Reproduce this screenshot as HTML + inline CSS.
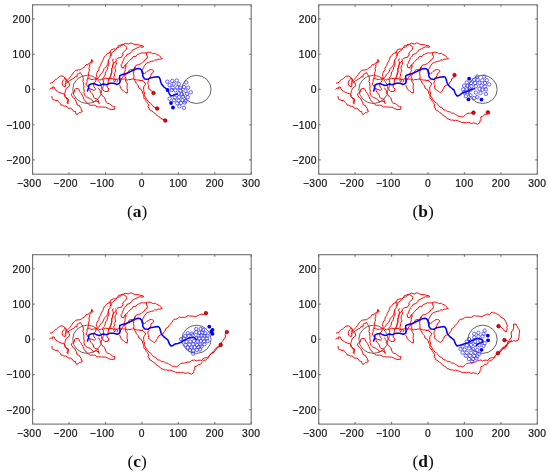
<!DOCTYPE html>
<html><head><meta charset="utf-8"><style>
html,body{margin:0;padding:0;background:#fff;}
svg{display:block;}
.r{fill:none;stroke:#ff0000;stroke-width:1.0;stroke-linejoin:round;stroke-linecap:round;}
.b{fill:none;stroke:#0000ff;stroke-width:1.55;stroke-linejoin:round;stroke-linecap:round;}
.g{fill:none;stroke:#2828ff;stroke-width:0.7;}
.ax{fill:none;stroke:#707070;stroke-width:1.1;}
.t{font-family:"Liberation Sans",Arial,sans-serif;font-size:10.3px;letter-spacing:0.35px;fill:#141414;stroke:#141414;stroke-width:0.22px;}
.cap{font-family:"Liberation Serif","DejaVu Serif",serif;font-size:17.4px;fill:#111;}
</style></head><body>
<svg width="550" height="476" viewBox="0 0 550 476">
<rect width="550" height="476" fill="#fff"/>
<ellipse cx="87.3" cy="89.4" rx="14.57" ry="14.10" fill="none" stroke="#5c5c5c" stroke-width="0.95"/>
<ellipse cx="196.5" cy="89.4" rx="14.57" ry="14.10" fill="none" stroke="#5c5c5c" stroke-width="0.95"/>
<polyline points="50.3,83.1 51.9,82.9 53.2,81.9 54.2,80.7 55.3,79.6 56.6,79.2 57.6,78.3 59.5,76.3 61.9,75.9 63.8,76.5 64.9,77.8 64.6,79.0 63.3,80.2 62.3,82.0 62.1,83.4 62.6,85.1 63.7,86.5 65.8,86.3 65.7,84.7 65.6,82.7 66.4,80.8 66.0,78.8" class="r"/>
<polyline points="65.1,81.1 66.9,80.9 67.8,79.8 68.8,78.8 69.7,77.7 70.5,76.5 71.5,75.5 72.2,74.3 73.3,72.9 74.4,71.6 75.7,70.3 77.1,70.1 78.6,69.9 80.1,69.9 81.4,69.1 82.6,68.2 84.0,67.4 85.2,66.4 86.0,64.7 87.8,64.5 89.0,63.5 90.1,62.8 91.0,61.8 93.0,62.0 91.8,59.4 91.2,61.5 90.9,63.5 89.5,64.9 89.8,66.7 88.8,68.2 89.4,70.0 89.0,71.7 88.3,73.3 88.6,75.0 88.1,76.7 87.7,78.3 86.9,79.9 87.2,81.3 86.7,82.6 85.8,84.4 87.4,85.5 88.0,87.0" class="r"/>
<polyline points="65.0,84.1 66.5,83.0 68.0,82.0 69.4,80.8 71.0,79.9 72.3,79.0 73.9,78.4 74.9,76.8 77.0,76.8 77.1,74.3 78.7,73.7 80.4,72.6 81.5,74.5 82.8,76.4 83.2,78.2 83.3,80.0 82.8,81.7 83.8,83.3 83.6,85.0 84.0,86.6 83.6,88.4 84.1,90.0 84.2,91.3 83.8,92.7 84.4,94.1 85.1,95.6 86.2,96.8 87.5,97.7 89.1,98.0 90.2,98.7 91.3,99.6 92.3,100.2 93.3,102.0 95.3,101.2 97.0,101.0 98.2,102.3 99.3,103.6 98.7,102.3 98.3,100.7 97.8,99.2 96.3,98.7 94.7,98.3 93.7,97.2 93.3,95.3 92.3,93.8 91.0,92.5 90.1,91.0 89.7,89.4 89.0,88.0" class="r"/>
<polyline points="49.7,89.2 50.7,88.1 52.9,88.3 52.5,87.0 54.3,87.2 54.9,88.9 56.0,90.6 57.4,91.0 58.5,92.1 60.0,92.4 61.4,93.3 63.0,93.5 65.3,95.2 64.8,96.2 66.0,97.7 68.4,99.0 68.3,101.4 66.7,102.4 68.0,103.5" class="r"/>
<polyline points="64.8,77.7 65.6,78.8 66.2,80.0 67.2,80.8 68.5,82.2 69.3,84.1 69.7,85.9 68.1,87.0 66.2,88.9 65.5,90.3 65.2,91.9 64.7,93.4 64.3,95.2 65.1,96.6 66.1,97.9 67.1,99.3 67.8,100.9 68.0,103.5" class="r"/>
<polyline points="51.9,96.5 52.2,98.5 53.0,99.8 54.7,100.0 55.9,100.6 57.6,100.3 58.3,101.7 59.4,102.6 60.4,103.6 61.1,105.2 62.8,105.2 63.9,106.2 65.6,106.1 67.2,106.7 68.3,108.3 70.4,108.2 71.9,108.9 72.9,110.6 74.1,111.4 75.6,111.5 75.7,112.9 76.7,114.5 78.1,113.8 79.1,112.7 80.5,112.6 82.6,111.1 81.2,110.3 81.2,108.5 80.1,107.1 79.3,105.5 77.1,104.8 76.5,102.1 75.3,100.0 74.8,98.6 73.2,97.8 71.9,95.9 71.3,94.2 73.1,92.4 74.9,91.7 74.2,89.8 75.9,88.7 78.3,88.6 79.1,89.8 79.4,91.3 80.6,92.4 81.5,93.6 82.0,95.0 82.8,96.5 83.6,98.0 84.2,99.7 85.3,100.9 86.3,102.2 87.6,103.1 88.8,104.5 90.2,105.3 91.9,105.2 93.4,105.2 94.8,105.3 96.0,106.1 97.2,106.9 98.6,106.9 100.0,107.0 101.4,107.0 102.7,107.0 104.1,107.2 105.6,107.2 107.1,107.8 108.5,108.6 109.9,109.2 111.8,109.6 114.6,109.2 114.8,106.7 113.4,106.6 112.3,106.0 110.5,104.5 109.3,103.7 107.5,103.4 106.4,102.2 105.6,100.8 105.2,99.1 104.5,97.5 103.5,96.5 102.2,95.9 101.5,94.2 100.2,92.9 100.4,91.2 99.7,89.8 98.5,88.0" class="r"/>
<polyline points="89.7,88.6 91.8,89.5 94.4,90.4 95.7,88.7 94.0,87.0 93.6,85.4 93.7,83.7 94.7,82.4 95.8,81.1 96.2,79.5 95.8,77.9 96.9,76.6 96.3,74.8 96.7,73.5 97.1,72.2 97.8,70.9 99.0,69.8 98.9,68.1 99.6,66.8 100.7,65.5 101.0,63.8 101.9,62.1 102.9,60.4 103.5,58.6 104.2,57.0 105.5,55.7 106.7,54.2 108.2,53.2 109.8,52.9 110.2,51.9 110.8,52.4 110.9,55.0 110.1,56.4 110.1,58.0 108.9,59.6 108.1,61.3 108.9,63.4 108.7,65.3 108.0,66.5 107.4,67.8 107.3,69.3 106.9,70.7 105.7,71.7 105.3,73.1 105.1,75.1 104.1,76.7 102.9,78.0 102.7,79.8 103.5,80.9 103.6,82.5 103.8,84.0 103.7,85.4 103.1,86.7 102.5,88.3 103.0,89.9 104.5,91.4 106.0,91.6 108.1,91.3 109.0,88.8 107.3,87.7 107.0,85.9 107.3,84.6 108.2,83.4 108.1,82.0 108.5,80.5 108.7,79.1 109.7,77.9 110.2,76.6 110.8,75.2 111.4,73.9 111.7,72.6 111.9,71.1 111.6,69.7 111.6,68.4 112.5,67.4 112.6,65.9 113.0,64.5 113.3,63.0 113.2,61.7 112.0,60.2 113.5,59.0" class="r"/>
<polyline points="96.7,78.7 97.9,77.9 98.8,76.7 100.0,75.7 100.2,74.5 101.5,73.5 102.5,72.3 103.2,71.1 103.7,69.7 104.2,68.3 105.3,67.2 106.8,66.0 107.8,64.3 107.9,62.8 108.6,61.6 108.5,60.0" class="r"/>
<polyline points="108.5,80.3 109.1,78.9 110.0,77.7 110.5,76.1 111.0,74.8 111.0,73.4 111.8,72.2 111.7,70.7 111.9,69.4 112.1,68.0 112.7,66.7 112.8,65.1 113.5,63.6 114.5,62.2 116.0,61.0" class="r"/>
<polyline points="109.0,52.6 110.3,51.6 111.2,49.8 113.7,48.9 115.7,49.2 116.7,48.1 117.7,46.9 118.6,45.4 120.3,45.2 121.9,44.4 123.6,44.3 125.1,43.2 126.8,43.7 128.4,44.0 130.3,43.0 132.2,43.3 133.7,44.2 135.2,44.5 136.9,44.7 138.5,44.8 139.8,45.2 141.0,45.6 143.1,45.9 143.6,47.0 142.0,47.2 139.6,46.8 137.2,47.8 135.1,48.9 133.8,49.6 132.3,50.1 131.8,51.5 131.0,52.6 129.1,53.9 126.9,54.4 126.3,56.0 125.2,57.2 124.1,58.2 123.7,59.6 123.1,60.9 122.4,62.2 122.1,63.5 121.0,64.8 121.3,66.1 121.7,67.5 123.5,68.1 124.4,66.0 125.1,65.1 126.5,66.1" class="r"/>
<polyline points="117.4,58.3 119.8,57.5 121.5,57.3 122.0,55.9 123.2,55.2 122.7,52.9 124.5,51.2 126.2,49.6 126.7,47.4 125.6,45.9 123.3,44.6 121.2,45.6 119.2,47.2 117.7,47.4 116.7,48.4 115.2,50.4 114.0,51.1 112.8,51.9 111.0,53.7 111.2,55.9" class="r"/>
<polyline points="115.9,59.0 116.3,60.3 115.8,61.7 116.5,63.0 116.2,64.3 115.4,65.6 115.0,66.9 115.0,68.3 115.4,69.7 115.8,71.1 115.0,72.4 114.1,73.6 114.6,75.0 114.0,76.3 113.8,77.6 114.1,79.0 113.8,80.5 114.5,82.2 115.4,80.6 116.3,79.2 117.7,80.3 117.0,82.0" class="r"/>
<polyline points="119.8,85.6 120.5,87.2 121.2,88.8 122.1,89.9 123.4,90.6 124.3,91.7 125.7,92.6 127.4,92.9 127.3,91.3 127.7,90.1 127.0,88.7 127.1,87.3 127.1,85.6 127.4,83.9 126.4,82.5 125.6,81.0 125.7,79.5 125.9,78.0 125.2,76.8 124.9,75.4 124.4,74.0 124.3,72.5 125.2,71.0 125.1,69.5 125.2,67.9 125.6,66.4 125.5,64.4 127.1,63.8 127.6,62.6 128.6,61.6 129.7,60.2 131.1,59.1 132.2,58.5 132.8,57.0 134.0,56.4 136.1,56.4 137.1,54.7 138.4,54.2 139.8,53.8 141.0,53.0 142.3,52.8 143.7,53.1 145.0,53.0 146.7,52.5 148.3,52.2 150.1,52.3 151.3,52.8 152.4,53.6 153.7,53.6 155.4,53.3 156.5,54.3 157.9,54.9 159.3,55.6 160.1,56.7 161.1,57.6 162.3,58.8 161.0,58.9 159.5,59.3 157.9,59.1 156.5,60.1 154.7,59.9 153.4,61.1 151.5,61.3 149.7,61.9 148.2,62.5 146.4,63.2 145.1,65.1 144.2,66.1 143.6,67.5 142.4,69.6 141.7,71.6 141.8,72.9 142.4,74.3 143.3,73.5" class="r"/>
<polyline points="146.5,53.3 146.5,55.0 147.4,56.4 146.9,58.6 145.2,59.4 143.9,61.6 142.5,62.3 141.4,63.4 140.1,64.1 138.7,64.6 136.1,65.3 135.0,68.0 133.8,69.0 132.4,69.7 130.4,69.7 128.9,70.5 128.0,72.3 126.9,73.9 125.3,74.8 123.6,75.6 122.7,77.2 121.6,78.6 121.1,80.2 119.5,81.1" class="r"/>
<polyline points="134.6,67.1 134.4,68.7 134.2,70.3 133.7,71.8 133.5,73.5 133.8,75.1 134.0,76.6 133.5,78.1 134.8,79.4 134.7,80.6 135.8,82.0 136.3,83.7 137.3,84.7 138.4,85.8 138.9,88.1 140.1,88.9 141.4,89.6 141.9,91.1 143.0,92.0" class="r"/>
<polyline points="88.0,78.8 89.3,77.9 90.7,79.5 92.0,79.4 93.3,79.3 94.7,79.0 96.0,79.3 97.3,78.4 98.7,79.1 100.0,80.2 101.4,79.3 102.7,79.5 104.1,78.9 105.4,78.3 106.8,78.6 108.1,78.4 109.5,78.4 110.9,78.6 112.2,78.6 113.6,79.2 114.9,79.4 116.3,79.3 117.6,79.2 119.0,78.8 120.4,78.8 121.7,79.0 123.1,79.1 124.5,79.0 125.8,79.5 127.2,80.2 128.6,79.4 129.9,79.7 131.2,79.3 132.5,79.1 133.9,79.2 135.2,79.6 136.5,79.9 137.8,80.1 139.1,80.0 140.4,80.4 141.7,80.5 143.0,80.0" class="r"/>
<polyline points="144.5,73.7 145.9,72.6 147.1,71.3 148.5,70.6 150.0,69.7 151.5,69.5 152.5,69.7 153.8,71.2 152.8,72.7 151.2,73.8 150.9,75.6 150.1,77.1 149.3,78.3 148.1,79.0 148.9,80.7 147.9,82.0 147.9,83.3 148.1,84.6 148.8,85.6 148.3,87.7 149.3,89.2 151.3,90.7 152.7,91.5 153.5,93.0" class="r"/>
<polyline points="140.0,80.7 141.5,80.6 142.6,80.8 143.7,81.8 145.3,83.1 145.4,84.8 144.1,86.3 143.5,88.0 143.8,89.7 143.8,91.4 144.5,93.0 144.3,94.4 144.3,95.8 145.3,96.8 145.9,98.0 146.8,99.6 148.0,101.0 148.8,102.2 150.2,102.8 151.1,103.8 151.9,104.9 152.8,105.9 153.7,107.1 155.7,107.4 157.2,108.5" class="r"/>
<polyline points="142.4,92.1 142.8,93.5 143.6,94.7 144.0,96.0 143.7,97.8 144.6,99.0 145.9,100.0 146.1,101.4 147.0,102.6 148.0,103.5 148.6,104.9 147.9,106.9 149.1,107.9 149.3,109.7 150.7,110.3 152.0,111.0 153.2,112.2 154.7,113.0 155.7,114.4 157.0,115.5 158.4,116.3 159.9,117.2 161.0,118.7 162.9,119.2 164.1,119.8 165.3,120.5" class="r"/>
<circle cx="167.3" cy="81.7" r="1.7" class="g"/>
<circle cx="172.2" cy="80.9" r="1.7" class="g"/>
<circle cx="176.8" cy="80.5" r="1.7" class="g"/>
<circle cx="169.6" cy="85.1" r="1.7" class="g"/>
<circle cx="173.7" cy="84.0" r="1.7" class="g"/>
<circle cx="178.7" cy="84.0" r="1.7" class="g"/>
<circle cx="186.2" cy="82.4" r="1.7" class="g"/>
<circle cx="172.6" cy="87.7" r="1.7" class="g"/>
<circle cx="177.2" cy="87.4" r="1.7" class="g"/>
<circle cx="180.2" cy="87.7" r="1.7" class="g"/>
<circle cx="184.0" cy="87.0" r="1.7" class="g"/>
<circle cx="188.1" cy="87.7" r="1.7" class="g"/>
<circle cx="171.8" cy="90.0" r="1.7" class="g"/>
<circle cx="175.3" cy="90.4" r="1.7" class="g"/>
<circle cx="180.2" cy="90.4" r="1.7" class="g"/>
<circle cx="185.5" cy="90.8" r="1.7" class="g"/>
<circle cx="190.8" cy="92.3" r="1.7" class="g"/>
<circle cx="178.7" cy="93.4" r="1.7" class="g"/>
<circle cx="181.7" cy="94.2" r="1.7" class="g"/>
<circle cx="187.0" cy="93.8" r="1.7" class="g"/>
<circle cx="169.6" cy="98.7" r="1.7" class="g"/>
<circle cx="174.9" cy="97.6" r="1.7" class="g"/>
<circle cx="179.0" cy="97.2" r="1.7" class="g"/>
<circle cx="183.2" cy="96.5" r="1.7" class="g"/>
<circle cx="187.8" cy="97.2" r="1.7" class="g"/>
<circle cx="174.1" cy="100.2" r="1.7" class="g"/>
<circle cx="178.7" cy="100.6" r="1.7" class="g"/>
<circle cx="182.5" cy="100.2" r="1.7" class="g"/>
<circle cx="185.5" cy="101.0" r="1.7" class="g"/>
<circle cx="177.2" cy="103.3" r="1.7" class="g"/>
<circle cx="180.9" cy="102.9" r="1.7" class="g"/>
<circle cx="184.7" cy="102.5" r="1.7" class="g"/>
<circle cx="179.4" cy="106.3" r="1.7" class="g"/>
<circle cx="184.0" cy="107.8" r="1.7" class="g"/>
<polyline points="87.5,91.0 88.5,88.0 89.0,85.0 91.0,84.0 94.0,83.5 96.0,84.5 99.0,85.5 101.0,85.0 103.0,84.0 105.0,84.5 107.0,84.5 110.0,83.3 113.6,83.3 117.3,84.4 119.5,83.3 120.2,81.1 119.5,78.2 119.8,75.6 122.4,74.5 126.0,73.5 128.0,72.8 130.5,71.6 133.1,70.3 135.6,69.0 138.2,68.4 140.1,68.7 141.4,70.0 142.3,71.6 143.0,73.5 142.6,75.4 143.3,77.3 144.9,79.1 147.8,79.4 150.3,77.9 153.5,77.3 157.3,76.7 159.2,77.3 160.2,79.5 160.7,82.0 161.5,84.0 164.0,87.0 166.5,89.0 167.9,90.0 168.8,92.5 169.4,94.0 171.0,96.0 173.0,95.5 175.0,94.5 177.5,94.0" class="b"/>
<circle cx="167.5" cy="90.0" r="1.9" fill="#0000ff"/>
<circle cx="171.0" cy="103.0" r="1.9" fill="#0000ff"/>
<circle cx="173.0" cy="107.5" r="1.9" fill="#0000ff"/>
<circle cx="153.5" cy="93.0" r="1.85" fill="#f00000" stroke="#700000" stroke-width="0.55"/>
<circle cx="157.2" cy="108.5" r="1.85" fill="#f00000" stroke="#700000" stroke-width="0.55"/>
<circle cx="165.3" cy="120.5" r="1.85" fill="#f00000" stroke="#700000" stroke-width="0.55"/>
<rect x="32.6" y="4.8" width="218.6" height="169.4" class="ax"/>
<path d="M32.6,174.2v-2M32.6,4.8v2M69.0,174.2v-2M69.0,4.8v2M105.5,174.2v-2M105.5,4.8v2M141.9,174.2v-2M141.9,4.8v2M178.3,174.2v-2M178.3,4.8v2M214.8,174.2v-2M214.8,4.8v2M251.2,174.2v-2M251.2,4.8v2M32.6,159.9h2M251.2,159.9h-2M32.6,124.7h2M251.2,124.7h-2M32.6,89.4h2M251.2,89.4h-2M32.6,54.2h2M251.2,54.2h-2M32.6,18.9h2M251.2,18.9h-2" class="ax"/>
<text x="29.2" y="186.7" text-anchor="middle" class="t">−300</text>
<text x="65.6" y="186.7" text-anchor="middle" class="t">−200</text>
<text x="102.1" y="186.7" text-anchor="middle" class="t">−100</text>
<text x="141.9" y="186.7" text-anchor="middle" class="t">0</text>
<text x="178.3" y="186.7" text-anchor="middle" class="t">100</text>
<text x="214.8" y="186.7" text-anchor="middle" class="t">200</text>
<text x="251.2" y="186.7" text-anchor="middle" class="t">300</text>
<text x="30.8" y="163.8" text-anchor="end" class="t">−200</text>
<text x="30.8" y="128.6" text-anchor="end" class="t">−100</text>
<text x="30.8" y="93.3" text-anchor="end" class="t">0</text>
<text x="30.8" y="58.1" text-anchor="end" class="t">100</text>
<text x="30.8" y="22.8" text-anchor="end" class="t">200</text>
<text x="137.1" y="217.2" text-anchor="middle" class="cap">(<tspan font-weight="bold">a</tspan>)</text>
<ellipse cx="373.4" cy="89.4" rx="14.57" ry="14.10" fill="none" stroke="#5c5c5c" stroke-width="0.95"/>
<ellipse cx="482.6" cy="89.4" rx="14.57" ry="14.10" fill="none" stroke="#5c5c5c" stroke-width="0.95"/>
<polyline points="336.4,83.1 338.0,82.9 339.3,81.9 340.3,80.7 341.4,79.6 342.7,79.2 343.7,78.3 345.6,76.3 348.0,75.9 349.9,76.5 351.0,77.8 350.7,79.0 349.4,80.2 348.4,82.0 348.2,83.4 348.7,85.1 349.8,86.5 351.9,86.3 351.8,84.7 351.7,82.7 352.5,80.8 352.1,78.8" class="r"/>
<polyline points="351.2,81.1 353.0,80.9 353.9,79.8 354.9,78.8 355.8,77.7 356.6,76.5 357.6,75.5 358.3,74.3 359.4,72.9 360.5,71.6 361.8,70.3 363.2,70.1 364.7,69.9 366.2,69.9 367.5,69.1 368.7,68.2 370.1,67.4 371.3,66.4 372.1,64.7 373.9,64.5 375.1,63.5 376.2,62.8 377.1,61.8 379.1,62.0 377.9,59.4 377.3,61.5 377.0,63.5 375.6,64.9 375.9,66.7 374.9,68.2 375.5,70.0 375.1,71.7 374.4,73.3 374.7,75.0 374.2,76.7 373.8,78.3 373.0,79.9 373.3,81.3 372.8,82.6 371.9,84.4 373.5,85.5 374.1,87.0" class="r"/>
<polyline points="351.1,84.1 352.6,83.0 354.1,82.0 355.5,80.8 357.1,79.9 358.4,79.0 360.0,78.4 361.0,76.8 363.1,76.8 363.2,74.3 364.8,73.7 366.5,72.6 367.6,74.5 368.9,76.4 369.3,78.2 369.4,80.0 368.9,81.7 369.9,83.3 369.7,85.0 370.1,86.6 369.7,88.4 370.2,90.0 370.3,91.3 369.9,92.7 370.5,94.1 371.2,95.6 372.3,96.8 373.6,97.7 375.2,98.0 376.3,98.7 377.4,99.6 378.4,100.2 379.4,102.0 381.4,101.2 383.1,101.0 384.3,102.3 385.4,103.6 384.8,102.3 384.4,100.7 383.9,99.2 382.4,98.7 380.8,98.3 379.8,97.2 379.4,95.3 378.4,93.8 377.1,92.5 376.2,91.0 375.8,89.4 375.1,88.0" class="r"/>
<polyline points="335.8,89.2 336.8,88.1 339.0,88.3 338.6,87.0 340.4,87.2 341.0,88.9 342.1,90.6 343.5,91.0 344.6,92.1 346.1,92.4 347.5,93.3 349.1,93.5 351.4,95.2 350.9,96.2 352.1,97.7 354.5,99.0 354.4,101.4 352.8,102.4 354.1,103.5" class="r"/>
<polyline points="350.9,77.7 351.7,78.8 352.3,80.0 353.3,80.8 354.6,82.2 355.4,84.1 355.8,85.9 354.2,87.0 352.3,88.9 351.6,90.3 351.3,91.9 350.8,93.4 350.4,95.2 351.2,96.6 352.2,97.9 353.2,99.3 353.9,100.9 354.1,103.5" class="r"/>
<polyline points="338.0,96.5 338.3,98.5 339.1,99.8 340.8,100.0 342.0,100.6 343.7,100.3 344.4,101.7 345.5,102.6 346.5,103.6 347.2,105.2 348.9,105.2 350.0,106.2 351.7,106.1 353.3,106.7 354.4,108.3 356.5,108.2 358.0,108.9 359.0,110.6 360.2,111.4 361.7,111.5 361.8,112.9 362.8,114.5 364.2,113.8 365.2,112.7 366.6,112.6 368.7,111.1 367.3,110.3 367.3,108.5 366.2,107.1 365.4,105.5 363.2,104.8 362.6,102.1 361.4,100.0 360.9,98.6 359.3,97.8 358.0,95.9 357.4,94.2 359.2,92.4 361.0,91.7 360.3,89.8 362.0,88.7 364.4,88.6 365.2,89.8 365.5,91.3 366.7,92.4 367.6,93.6 368.1,95.0 368.9,96.5 369.7,98.0 370.3,99.7 371.4,100.9 372.4,102.2 373.7,103.1 374.9,104.5 376.3,105.3 378.0,105.2 379.5,105.2 380.9,105.3 382.1,106.1 383.3,106.9 384.7,106.9 386.1,107.0 387.5,107.0 388.8,107.0 390.2,107.2 391.7,107.2 393.2,107.8 394.6,108.6 396.0,109.2 397.9,109.6 400.7,109.2 400.9,106.7 399.5,106.6 398.4,106.0 396.6,104.5 395.4,103.7 393.6,103.4 392.5,102.2 391.7,100.8 391.3,99.1 390.6,97.5 389.6,96.5 388.3,95.9 387.6,94.2 386.3,92.9 386.5,91.2 385.8,89.8 384.6,88.0" class="r"/>
<polyline points="375.8,88.6 377.9,89.5 380.5,90.4 381.8,88.7 380.1,87.0 379.7,85.4 379.8,83.7 380.8,82.4 381.9,81.1 382.3,79.5 381.9,77.9 383.0,76.6 382.4,74.8 382.8,73.5 383.2,72.2 383.9,70.9 385.1,69.8 385.0,68.1 385.7,66.8 386.8,65.5 387.1,63.8 388.0,62.1 389.0,60.4 389.6,58.6 390.3,57.0 391.6,55.7 392.8,54.2 394.3,53.2 395.9,52.9 396.3,51.9 396.9,52.4 397.0,55.0 396.2,56.4 396.2,58.0 395.0,59.6 394.2,61.3 395.0,63.4 394.8,65.3 394.1,66.5 393.5,67.8 393.4,69.3 393.0,70.7 391.8,71.7 391.4,73.1 391.2,75.1 390.2,76.7 389.0,78.0 388.8,79.8 389.6,80.9 389.7,82.5 389.9,84.0 389.8,85.4 389.2,86.7 388.6,88.3 389.1,89.9 390.6,91.4 392.1,91.6 394.2,91.3 395.1,88.8 393.4,87.7 393.1,85.9 393.4,84.6 394.3,83.4 394.2,82.0 394.6,80.5 394.8,79.1 395.8,77.9 396.3,76.6 396.9,75.2 397.5,73.9 397.8,72.6 398.0,71.1 397.7,69.7 397.7,68.4 398.6,67.4 398.7,65.9 399.1,64.5 399.4,63.0 399.3,61.7 398.1,60.2 399.6,59.0" class="r"/>
<polyline points="382.8,78.7 384.0,77.9 384.9,76.7 386.1,75.7 386.3,74.5 387.6,73.5 388.6,72.3 389.3,71.1 389.8,69.7 390.3,68.3 391.4,67.2 392.9,66.0 393.9,64.3 394.0,62.8 394.7,61.6 394.6,60.0" class="r"/>
<polyline points="394.6,80.3 395.2,78.9 396.1,77.7 396.6,76.1 397.1,74.8 397.1,73.4 397.9,72.2 397.8,70.7 398.0,69.4 398.2,68.0 398.8,66.7 398.9,65.1 399.6,63.6 400.6,62.2 402.1,61.0" class="r"/>
<polyline points="395.1,52.6 396.4,51.6 397.3,49.8 399.8,48.9 401.8,49.2 402.8,48.1 403.8,46.9 404.7,45.4 406.4,45.2 408.0,44.4 409.7,44.3 411.2,43.2 412.9,43.7 414.5,44.0 416.4,43.0 418.3,43.3 419.8,44.2 421.3,44.5 423.0,44.7 424.6,44.8 425.9,45.2 427.1,45.6 429.2,45.9 429.7,47.0 428.1,47.2 425.7,46.8 423.3,47.8 421.2,48.9 419.9,49.6 418.4,50.1 417.9,51.5 417.1,52.6 415.2,53.9 413.0,54.4 412.4,56.0 411.3,57.2 410.2,58.2 409.8,59.6 409.2,60.9 408.5,62.2 408.2,63.5 407.1,64.8 407.4,66.1 407.8,67.5 409.6,68.1 410.5,66.0 411.2,65.1 412.6,66.1" class="r"/>
<polyline points="403.5,58.3 405.9,57.5 407.6,57.3 408.1,55.9 409.3,55.2 408.8,52.9 410.6,51.2 412.3,49.6 412.8,47.4 411.7,45.9 409.4,44.6 407.3,45.6 405.3,47.2 403.8,47.4 402.8,48.4 401.3,50.4 400.1,51.1 398.9,51.9 397.1,53.7 397.3,55.9" class="r"/>
<polyline points="402.0,59.0 402.4,60.3 401.9,61.7 402.6,63.0 402.3,64.3 401.5,65.6 401.1,66.9 401.1,68.3 401.5,69.7 401.9,71.1 401.1,72.4 400.2,73.6 400.7,75.0 400.1,76.3 399.9,77.6 400.2,79.0 399.9,80.5 400.6,82.2 401.5,80.6 402.4,79.2 403.8,80.3 403.1,82.0" class="r"/>
<polyline points="405.9,85.6 406.6,87.2 407.3,88.8 408.2,89.9 409.5,90.6 410.4,91.7 411.8,92.6 413.5,92.9 413.4,91.3 413.8,90.1 413.1,88.7 413.2,87.3 413.2,85.6 413.5,83.9 412.5,82.5 411.7,81.0 411.8,79.5 412.0,78.0 411.3,76.8 411.0,75.4 410.5,74.0 410.4,72.5 411.3,71.0 411.2,69.5 411.3,67.9 411.7,66.4 411.6,64.4 413.2,63.8 413.7,62.6 414.7,61.6 415.8,60.2 417.2,59.1 418.3,58.5 418.9,57.0 420.1,56.4 422.2,56.4 423.2,54.7 424.5,54.2 425.9,53.8 427.1,53.0 428.4,52.8 429.8,53.1 431.1,53.0 432.8,52.5 434.4,52.2 436.2,52.3 437.4,52.8 438.5,53.6 439.8,53.6 441.5,53.3 442.6,54.3 444.0,54.9 445.4,55.6 446.2,56.7 447.2,57.6 448.4,58.8 447.1,58.9 445.6,59.3 444.0,59.1 442.6,60.1 440.8,59.9 439.5,61.1 437.6,61.3 435.8,61.9 434.3,62.5 432.5,63.2 431.2,65.1 430.3,66.1 429.7,67.5 428.5,69.6 427.8,71.6 427.9,72.9 428.5,74.3 429.4,73.5" class="r"/>
<polyline points="432.6,53.3 432.6,55.0 433.5,56.4 433.0,58.6 431.3,59.4 430.0,61.6 428.6,62.3 427.5,63.4 426.2,64.1 424.8,64.6 422.2,65.3 421.1,68.0 419.9,69.0 418.5,69.7 416.5,69.7 415.0,70.5 414.1,72.3 413.0,73.9 411.4,74.8 409.7,75.6 408.8,77.2 407.7,78.6 407.2,80.2 405.6,81.1" class="r"/>
<polyline points="420.7,67.1 420.5,68.7 420.3,70.3 419.8,71.8 419.6,73.5 419.9,75.1 420.1,76.6 419.6,78.1 420.9,79.4 420.8,80.6 421.9,82.0 422.4,83.7 423.4,84.7 424.5,85.8 425.0,88.1 426.2,88.9 427.5,89.6 428.0,91.1 429.1,92.0" class="r"/>
<polyline points="374.1,78.8 375.4,77.9 376.8,79.5 378.1,79.4 379.4,79.3 380.8,79.0 382.1,79.3 383.4,78.4 384.8,79.1 386.1,80.2 387.5,79.3 388.8,79.5 390.2,78.9 391.5,78.3 392.9,78.6 394.2,78.4 395.6,78.4 397.0,78.6 398.3,78.6 399.7,79.2 401.0,79.4 402.4,79.3 403.7,79.2 405.1,78.8 406.5,78.8 407.8,79.0 409.2,79.1 410.6,79.0 411.9,79.5 413.3,80.2 414.7,79.4 416.0,79.7 417.3,79.3 418.6,79.1 420.0,79.2 421.3,79.6 422.6,79.9 423.9,80.1 425.2,80.0 426.5,80.4 427.8,80.5 429.1,80.0" class="r"/>
<polyline points="430.6,73.7 432.0,72.6 433.2,71.3 434.6,70.6 436.1,69.7 437.6,69.5 438.6,69.7 439.9,71.2 438.9,72.7 437.3,73.8 437.0,75.6 436.2,77.1 435.4,78.3 434.2,79.0 435.0,80.7 434.0,82.0 434.0,83.3 434.2,84.6 434.9,85.6 434.4,87.7 435.4,89.2 437.4,90.7 438.8,91.5 439.3,92.1 440.8,92.4 442.0,91.4 442.6,90.0 443.6,88.7 444.1,87.1 445.0,86.0 446.2,85.2 447.9,84.7 449.6,83.4 450.1,81.8 451.5,80.7 451.7,78.8 453.2,77.9 454.5,76.9 454.5,75.0" class="r"/>
<polyline points="426.1,80.7 427.6,80.6 428.7,80.8 429.8,81.8 431.4,83.1 431.5,84.8 430.2,86.3 429.6,88.0 429.9,89.7 429.9,91.4 430.6,93.0 430.4,94.4 430.4,95.8 431.4,96.8 432.0,98.0 432.9,99.6 434.1,101.0 434.9,102.2 436.3,102.8 437.2,103.8 438.0,104.9 438.9,105.9 439.8,107.1 441.8,107.4 442.9,109.1 443.9,110.0 445.5,110.1 446.6,110.9 447.7,111.8 449.3,111.7 450.6,112.2 451.7,113.2 453.3,113.1 454.5,113.8 455.6,114.6 456.8,115.2 457.9,116.1 459.2,116.4 460.5,116.4 462.2,117.0 463.8,116.3 465.0,115.4 465.8,114.6 466.9,113.5 469.4,113.2 470.8,113.1 472.1,112.8 473.5,112.7" class="r"/>
<polyline points="428.5,92.1 428.9,93.5 429.7,94.7 430.1,96.0 429.8,97.8 430.7,99.0 432.0,100.0 432.2,101.4 433.1,102.6 434.1,103.5 434.7,104.9 434.0,106.9 435.2,107.9 435.4,109.7 436.8,110.3 438.1,111.0 439.3,112.2 440.8,113.0 441.8,114.4 443.1,115.5 444.5,116.3 446.0,117.2 447.1,118.7 449.0,119.2 450.2,119.8 451.4,120.1 452.8,120.0 454.1,120.5 455.6,120.2 457.1,120.5 458.6,121.2 460.2,121.6 461.7,122.4 463.3,122.5 464.9,122.5 466.5,122.9 468.2,122.2 469.9,122.9 471.5,123.5 473.3,122.9 475.2,123.2 477.5,124.3 479.8,122.8 479.9,121.0 481.0,119.5 480.8,118.0 480.9,116.8 482.4,116.4 483.7,115.7 484.7,114.4 486.5,114.4 487.9,112.4" class="r"/>
<circle cx="477.3" cy="76.6" r="1.7" class="g"/>
<circle cx="484.1" cy="76.6" r="1.7" class="g"/>
<circle cx="474.1" cy="79.8" r="1.7" class="g"/>
<circle cx="477.7" cy="79.8" r="1.7" class="g"/>
<circle cx="482.3" cy="80.3" r="1.7" class="g"/>
<circle cx="486.8" cy="80.3" r="1.7" class="g"/>
<circle cx="466.8" cy="82.5" r="1.7" class="g"/>
<circle cx="470.9" cy="83.0" r="1.7" class="g"/>
<circle cx="475.0" cy="83.0" r="1.7" class="g"/>
<circle cx="479.5" cy="83.0" r="1.7" class="g"/>
<circle cx="485.0" cy="83.0" r="1.7" class="g"/>
<circle cx="489.1" cy="84.4" r="1.7" class="g"/>
<circle cx="464.1" cy="85.7" r="1.7" class="g"/>
<circle cx="467.7" cy="85.7" r="1.7" class="g"/>
<circle cx="471.4" cy="86.2" r="1.7" class="g"/>
<circle cx="475.9" cy="86.2" r="1.7" class="g"/>
<circle cx="481.4" cy="85.7" r="1.7" class="g"/>
<circle cx="485.0" cy="86.6" r="1.7" class="g"/>
<circle cx="463.2" cy="89.4" r="1.7" class="g"/>
<circle cx="466.8" cy="89.4" r="1.7" class="g"/>
<circle cx="470.5" cy="89.8" r="1.7" class="g"/>
<circle cx="479.5" cy="88.9" r="1.7" class="g"/>
<circle cx="482.3" cy="89.8" r="1.7" class="g"/>
<circle cx="485.9" cy="89.4" r="1.7" class="g"/>
<circle cx="464.1" cy="92.5" r="1.7" class="g"/>
<circle cx="467.7" cy="92.1" r="1.7" class="g"/>
<circle cx="475.9" cy="92.5" r="1.7" class="g"/>
<circle cx="480.5" cy="93.0" r="1.7" class="g"/>
<circle cx="485.9" cy="93.9" r="1.7" class="g"/>
<circle cx="465.9" cy="96.2" r="1.7" class="g"/>
<circle cx="470.5" cy="95.3" r="1.7" class="g"/>
<circle cx="474.1" cy="98.0" r="1.7" class="g"/>
<circle cx="477.3" cy="97.1" r="1.7" class="g"/>
<polyline points="373.6,91.0 374.6,88.0 375.1,85.0 377.1,84.0 380.1,83.5 382.1,84.5 385.1,85.5 387.1,85.0 389.1,84.0 391.1,84.5 393.1,84.5 396.1,83.3 399.7,83.3 403.4,84.4 405.6,83.3 406.3,81.1 405.6,78.2 405.9,75.6 408.5,74.5 412.1,73.5 414.1,72.8 416.6,71.6 419.2,70.3 421.7,69.0 424.3,68.4 426.2,68.7 427.5,70.0 428.4,71.6 429.1,73.5 428.7,75.4 429.4,77.3 431.0,79.1 433.9,79.4 436.4,77.9 439.6,77.3 443.4,76.7 445.3,77.3 446.3,79.5 446.8,82.0 447.6,84.0 450.1,87.0 452.6,89.0 454.0,90.0 454.9,92.5 455.5,94.0 457.1,96.0 459.1,95.5 460.5,94.4 462.3,93.0 465.0,92.1 467.7,91.2 470.5,89.8 473.2,88.9 474.5,88.7" class="b"/>
<circle cx="469.1" cy="78.7" r="1.9" fill="#0000ff"/>
<circle cx="468.5" cy="99.4" r="1.9" fill="#0000ff"/>
<circle cx="481.5" cy="99.6" r="1.9" fill="#0000ff"/>
<circle cx="454.5" cy="75.0" r="1.85" fill="#f00000" stroke="#700000" stroke-width="0.55"/>
<circle cx="473.5" cy="112.7" r="1.85" fill="#f00000" stroke="#700000" stroke-width="0.55"/>
<circle cx="487.9" cy="112.4" r="1.85" fill="#f00000" stroke="#700000" stroke-width="0.55"/>
<rect x="318.7" y="4.8" width="218.6" height="169.4" class="ax"/>
<path d="M318.7,174.2v-2M318.7,4.8v2M355.1,174.2v-2M355.1,4.8v2M391.6,174.2v-2M391.6,4.8v2M428.0,174.2v-2M428.0,4.8v2M464.4,174.2v-2M464.4,4.8v2M500.9,174.2v-2M500.9,4.8v2M537.3,174.2v-2M537.3,4.8v2M318.7,159.9h2M537.3,159.9h-2M318.7,124.7h2M537.3,124.7h-2M318.7,89.4h2M537.3,89.4h-2M318.7,54.2h2M537.3,54.2h-2M318.7,18.9h2M537.3,18.9h-2" class="ax"/>
<text x="315.3" y="186.7" text-anchor="middle" class="t">−300</text>
<text x="351.7" y="186.7" text-anchor="middle" class="t">−200</text>
<text x="388.2" y="186.7" text-anchor="middle" class="t">−100</text>
<text x="428.0" y="186.7" text-anchor="middle" class="t">0</text>
<text x="464.4" y="186.7" text-anchor="middle" class="t">100</text>
<text x="500.9" y="186.7" text-anchor="middle" class="t">200</text>
<text x="537.3" y="186.7" text-anchor="middle" class="t">300</text>
<text x="316.9" y="163.8" text-anchor="end" class="t">−200</text>
<text x="316.9" y="128.6" text-anchor="end" class="t">−100</text>
<text x="316.9" y="93.3" text-anchor="end" class="t">0</text>
<text x="316.9" y="58.1" text-anchor="end" class="t">100</text>
<text x="316.9" y="22.8" text-anchor="end" class="t">200</text>
<text x="423.2" y="217.2" text-anchor="middle" class="cap">(<tspan font-weight="bold">b</tspan>)</text>
<ellipse cx="87.3" cy="339.3" rx="14.57" ry="14.10" fill="none" stroke="#5c5c5c" stroke-width="0.95"/>
<ellipse cx="196.5" cy="339.3" rx="14.57" ry="14.10" fill="none" stroke="#5c5c5c" stroke-width="0.95"/>
<polyline points="50.3,333.0 51.9,332.8 53.2,331.8 54.2,330.6 55.3,329.5 56.6,329.1 57.6,328.2 59.5,326.2 61.9,325.8 63.8,326.4 64.9,327.7 64.6,328.9 63.3,330.1 62.3,331.9 62.1,333.3 62.6,335.0 63.7,336.4 65.8,336.2 65.7,334.6 65.6,332.6 66.4,330.7 66.0,328.7" class="r"/>
<polyline points="65.1,331.0 66.9,330.8 67.8,329.7 68.8,328.7 69.7,327.6 70.5,326.4 71.5,325.4 72.2,324.2 73.3,322.8 74.4,321.5 75.7,320.2 77.1,320.0 78.6,319.8 80.1,319.8 81.4,319.0 82.6,318.1 84.0,317.3 85.2,316.3 86.0,314.6 87.8,314.4 89.0,313.4 90.1,312.7 91.0,311.7 93.0,311.9 91.8,309.3 91.2,311.4 90.9,313.4 89.5,314.8 89.8,316.6 88.8,318.1 89.4,319.9 89.0,321.6 88.3,323.2 88.6,324.9 88.1,326.6 87.7,328.2 86.9,329.8 87.2,331.2 86.7,332.5 85.8,334.3 87.4,335.4 88.0,336.9" class="r"/>
<polyline points="65.0,334.0 66.5,332.9 68.0,331.9 69.4,330.7 71.0,329.8 72.3,328.9 73.9,328.3 74.9,326.7 77.0,326.7 77.1,324.2 78.7,323.6 80.4,322.5 81.5,324.4 82.8,326.3 83.2,328.1 83.3,329.9 82.8,331.6 83.8,333.2 83.6,334.9 84.0,336.5 83.6,338.3 84.1,339.9 84.2,341.2 83.8,342.6 84.4,344.0 85.1,345.5 86.2,346.7 87.5,347.6 89.1,347.9 90.2,348.6 91.3,349.5 92.3,350.1 93.3,351.9 95.3,351.1 97.0,350.9 98.2,352.2 99.3,353.5 98.7,352.2 98.3,350.6 97.8,349.1 96.3,348.6 94.7,348.2 93.7,347.1 93.3,345.2 92.3,343.7 91.0,342.4 90.1,340.9 89.7,339.3 89.0,337.9" class="r"/>
<polyline points="49.7,339.1 50.7,338.0 52.9,338.2 52.5,336.9 54.3,337.1 54.9,338.8 56.0,340.5 57.4,340.9 58.5,342.0 60.0,342.3 61.4,343.2 63.0,343.4 65.3,345.1 64.8,346.1 66.0,347.6 68.4,348.9 68.3,351.3 66.7,352.3 68.0,353.4" class="r"/>
<polyline points="64.8,327.6 65.6,328.7 66.2,329.9 67.2,330.7 68.5,332.1 69.3,334.0 69.7,335.8 68.1,336.9 66.2,338.8 65.5,340.2 65.2,341.8 64.7,343.3 64.3,345.1 65.1,346.5 66.1,347.8 67.1,349.2 67.8,350.8 68.0,353.4" class="r"/>
<polyline points="51.9,346.4 52.2,348.4 53.0,349.7 54.7,349.9 55.9,350.5 57.6,350.2 58.3,351.6 59.4,352.5 60.4,353.5 61.1,355.1 62.8,355.1 63.9,356.1 65.6,356.0 67.2,356.6 68.3,358.2 70.4,358.1 71.9,358.8 72.9,360.5 74.1,361.3 75.6,361.4 75.7,362.8 76.7,364.4 78.1,363.7 79.1,362.6 80.5,362.5 82.6,361.0 81.2,360.2 81.2,358.4 80.1,357.0 79.3,355.4 77.1,354.7 76.5,352.0 75.3,349.9 74.8,348.5 73.2,347.7 71.9,345.8 71.3,344.1 73.1,342.3 74.9,341.6 74.2,339.7 75.9,338.6 78.3,338.5 79.1,339.7 79.4,341.2 80.6,342.3 81.5,343.5 82.0,344.9 82.8,346.4 83.6,347.9 84.2,349.6 85.3,350.8 86.3,352.1 87.6,353.0 88.8,354.4 90.2,355.2 91.9,355.1 93.4,355.1 94.8,355.2 96.0,356.0 97.2,356.8 98.6,356.8 100.0,356.9 101.4,356.9 102.7,356.9 104.1,357.1 105.6,357.1 107.1,357.7 108.5,358.5 109.9,359.1 111.8,359.5 114.6,359.1 114.8,356.6 113.4,356.5 112.3,355.9 110.5,354.4 109.3,353.6 107.5,353.3 106.4,352.1 105.6,350.7 105.2,349.0 104.5,347.4 103.5,346.4 102.2,345.8 101.5,344.1 100.2,342.8 100.4,341.1 99.7,339.7 98.5,337.9" class="r"/>
<polyline points="89.7,338.5 91.8,339.4 94.4,340.3 95.7,338.6 94.0,336.9 93.6,335.3 93.7,333.6 94.7,332.3 95.8,331.0 96.2,329.4 95.8,327.8 96.9,326.5 96.3,324.7 96.7,323.4 97.1,322.1 97.8,320.8 99.0,319.7 98.9,318.0 99.6,316.7 100.7,315.4 101.0,313.7 101.9,312.0 102.9,310.3 103.5,308.5 104.2,306.9 105.5,305.6 106.7,304.1 108.2,303.1 109.8,302.8 110.2,301.8 110.8,302.3 110.9,304.9 110.1,306.3 110.1,307.9 108.9,309.5 108.1,311.2 108.9,313.3 108.7,315.2 108.0,316.4 107.4,317.7 107.3,319.2 106.9,320.6 105.7,321.6 105.3,323.0 105.1,325.0 104.1,326.6 102.9,327.9 102.7,329.7 103.5,330.8 103.6,332.4 103.8,333.9 103.7,335.3 103.1,336.6 102.5,338.2 103.0,339.8 104.5,341.3 106.0,341.5 108.1,341.2 109.0,338.7 107.3,337.6 107.0,335.8 107.3,334.5 108.2,333.3 108.1,331.9 108.5,330.4 108.7,329.0 109.7,327.8 110.2,326.5 110.8,325.1 111.4,323.8 111.7,322.5 111.9,321.0 111.6,319.6 111.6,318.3 112.5,317.3 112.6,315.8 113.0,314.4 113.3,312.9 113.2,311.6 112.0,310.1 113.5,308.9" class="r"/>
<polyline points="96.7,328.6 97.9,327.8 98.8,326.6 100.0,325.6 100.2,324.4 101.5,323.4 102.5,322.2 103.2,321.0 103.7,319.6 104.2,318.2 105.3,317.1 106.8,315.9 107.8,314.2 107.9,312.7 108.6,311.5 108.5,309.9" class="r"/>
<polyline points="108.5,330.2 109.1,328.8 110.0,327.6 110.5,326.0 111.0,324.7 111.0,323.3 111.8,322.1 111.7,320.6 111.9,319.3 112.1,317.9 112.7,316.6 112.8,315.0 113.5,313.5 114.5,312.1 116.0,310.9" class="r"/>
<polyline points="109.0,302.5 110.3,301.5 111.2,299.7 113.7,298.8 115.7,299.1 116.7,298.0 117.7,296.8 118.6,295.3 120.3,295.1 121.9,294.3 123.6,294.2 125.1,293.1 126.8,293.6 128.4,293.9 130.3,292.9 132.2,293.2 133.7,294.1 135.2,294.4 136.9,294.6 138.5,294.7 139.8,295.1 141.0,295.5 143.1,295.8 143.6,296.9 142.0,297.1 139.6,296.7 137.2,297.7 135.1,298.8 133.8,299.5 132.3,300.0 131.8,301.4 131.0,302.5 129.1,303.8 126.9,304.3 126.3,305.9 125.2,307.1 124.1,308.1 123.7,309.5 123.1,310.8 122.4,312.1 122.1,313.4 121.0,314.7 121.3,316.0 121.7,317.4 123.5,318.0 124.4,315.9 125.1,315.0 126.5,316.0" class="r"/>
<polyline points="117.4,308.2 119.8,307.4 121.5,307.2 122.0,305.8 123.2,305.1 122.7,302.8 124.5,301.1 126.2,299.5 126.7,297.3 125.6,295.8 123.3,294.5 121.2,295.5 119.2,297.1 117.7,297.3 116.7,298.3 115.2,300.3 114.0,301.0 112.8,301.8 111.0,303.6 111.2,305.8" class="r"/>
<polyline points="115.9,308.9 116.3,310.2 115.8,311.6 116.5,312.9 116.2,314.2 115.4,315.5 115.0,316.8 115.0,318.2 115.4,319.6 115.8,321.0 115.0,322.3 114.1,323.5 114.6,324.9 114.0,326.2 113.8,327.5 114.1,328.9 113.8,330.4 114.5,332.1 115.4,330.5 116.3,329.1 117.7,330.2 117.0,331.9" class="r"/>
<polyline points="119.8,335.5 120.5,337.1 121.2,338.7 122.1,339.8 123.4,340.5 124.3,341.6 125.7,342.5 127.4,342.8 127.3,341.2 127.7,340.0 127.0,338.6 127.1,337.2 127.1,335.5 127.4,333.8 126.4,332.4 125.6,330.9 125.7,329.4 125.9,327.9 125.2,326.7 124.9,325.3 124.4,323.9 124.3,322.4 125.2,320.9 125.1,319.4 125.2,317.8 125.6,316.3 125.5,314.3 127.1,313.7 127.6,312.5 128.6,311.5 129.7,310.1 131.1,309.0 132.2,308.4 132.8,306.9 134.0,306.3 136.1,306.3 137.1,304.6 138.4,304.1 139.8,303.7 141.0,302.9 142.3,302.7 143.7,303.0 145.0,302.9 146.7,302.4 148.3,302.1 150.1,302.2 151.3,302.7 152.4,303.5 153.7,303.5 155.4,303.2 156.5,304.2 157.9,304.8 159.3,305.5 160.1,306.6 161.1,307.5 162.3,308.7 161.0,308.8 159.5,309.2 157.9,309.0 156.5,310.0 154.7,309.8 153.4,311.0 151.5,311.2 149.7,311.8 148.2,312.4 146.4,313.1 145.1,315.0 144.2,316.0 143.6,317.4 142.4,319.5 141.7,321.5 141.8,322.8 142.4,324.2 143.3,323.4" class="r"/>
<polyline points="146.5,303.2 146.5,304.9 147.4,306.3 146.9,308.5 145.2,309.3 143.9,311.5 142.5,312.2 141.4,313.3 140.1,314.0 138.7,314.5 136.1,315.2 135.0,317.9 133.8,318.9 132.4,319.6 130.4,319.6 128.9,320.4 128.0,322.2 126.9,323.8 125.3,324.7 123.6,325.5 122.7,327.1 121.6,328.5 121.1,330.1 119.5,331.0" class="r"/>
<polyline points="134.6,317.0 134.4,318.6 134.2,320.2 133.7,321.7 133.5,323.4 133.8,325.0 134.0,326.5 133.5,328.0 134.8,329.3 134.7,330.5 135.8,331.9 136.3,333.6 137.3,334.6 138.4,335.7 138.9,338.0 140.1,338.8 141.4,339.5 141.9,341.0 143.0,341.9" class="r"/>
<polyline points="88.0,328.7 89.3,327.8 90.7,329.4 92.0,329.3 93.3,329.2 94.7,328.9 96.0,329.2 97.3,328.3 98.7,329.0 100.0,330.1 101.4,329.2 102.7,329.4 104.1,328.8 105.4,328.2 106.8,328.5 108.1,328.3 109.5,328.3 110.9,328.5 112.2,328.5 113.6,329.1 114.9,329.3 116.3,329.2 117.6,329.1 119.0,328.7 120.4,328.7 121.7,328.9 123.1,329.0 124.5,328.9 125.8,329.4 127.2,330.1 128.6,329.3 129.9,329.6 131.2,329.2 132.5,329.0 133.9,329.1 135.2,329.5 136.5,329.8 137.8,330.0 139.1,329.9 140.4,330.3 141.7,330.4 143.0,329.9" class="r"/>
<polyline points="144.5,323.6 145.9,322.5 147.1,321.2 148.5,320.5 150.0,319.6 151.5,319.4 152.5,319.6 153.8,321.1 152.8,322.6 151.2,323.7 150.9,325.5 150.1,327.0 149.3,328.2 148.1,328.9 148.9,330.6 147.9,331.9 147.9,333.2 148.1,334.5 148.8,335.5 148.3,337.6 149.3,339.1 151.3,340.6 152.7,341.4 153.2,342.0 154.7,342.3 155.9,341.3 156.5,339.9 157.5,338.6 158.0,337.0 158.9,335.9 160.1,335.1 161.8,334.6 163.5,333.3 164.0,331.7 165.4,330.6 165.6,328.7 167.1,327.8 168.4,326.8 169.0,325.5 170.6,323.9 171.4,322.9 172.3,321.9 172.9,320.5 174.0,319.3 175.6,319.2 177.1,318.9 178.2,317.9 179.5,317.1 181.0,317.3 182.7,317.3 184.2,317.3 185.7,317.2 187.0,316.1 188.4,315.5 189.7,316.1 191.0,316.0 192.6,316.1 194.3,316.4 196.0,316.8 197.2,315.4 198.7,315.4 200.0,314.5 201.6,314.0 203.5,314.7 204.4,313.4 205.9,313.2" class="r"/>
<polyline points="140.0,330.6 141.5,330.5 142.6,330.7 143.7,331.7 145.3,333.0 145.4,334.7 144.1,336.2 143.5,337.9 143.8,339.6 143.8,341.3 144.5,342.9 144.3,344.3 144.3,345.7 145.3,346.7 145.9,347.9 146.8,349.5 148.0,350.9 148.8,352.1 150.2,352.7 151.1,353.7 151.9,354.8 152.8,355.8 153.7,357.0 155.7,357.3 156.8,359.0 157.8,359.9 159.4,360.0 160.5,360.8 161.6,361.7 163.2,361.6 164.5,362.1 165.6,363.1 167.2,363.0 168.4,363.7 169.5,364.5 170.7,365.1 171.8,366.0 173.1,366.3 174.4,366.3 176.1,366.9 177.7,366.2 178.9,365.3 179.7,364.5 180.8,363.4 183.3,363.1 184.7,363.0 186.0,362.7 187.2,362.2 189.2,362.0 190.6,361.5 191.8,360.3 193.4,360.3 194.8,359.9 196.2,361.0 197.6,360.4 199.0,360.2 200.4,360.2 202.0,360.5 202.9,358.8 204.3,358.0 206.1,357.8 207.6,357.5 208.5,356.5 209.3,355.4 210.2,354.4 211.1,353.2 212.9,352.9 214.2,352.1 214.9,350.7 216.1,349.7 216.7,348.3 217.3,346.9 219.1,347.0 219.5,345.2 220.7,344.9" class="r"/>
<polyline points="142.4,342.0 142.8,343.4 143.6,344.6 144.0,345.9 143.7,347.7 144.6,348.9 145.9,349.9 146.1,351.3 147.0,352.5 148.0,353.4 148.6,354.8 147.9,356.8 149.1,357.8 149.3,359.6 150.7,360.2 152.0,360.9 153.2,362.1 154.7,362.9 155.7,364.3 157.0,365.4 158.4,366.2 159.9,367.1 161.0,368.6 162.9,369.1 164.1,369.7 165.3,370.0 166.7,369.9 168.0,370.4 169.5,370.1 171.0,370.4 172.5,371.1 174.1,371.5 175.6,372.3 177.2,372.4 178.8,372.4 180.4,372.8 182.1,372.1 183.8,372.8 185.4,373.4 187.2,372.8 189.1,373.1 191.4,374.2 193.7,372.7 193.8,370.9 194.9,369.4 194.7,367.9 194.8,366.7 196.3,366.3 197.6,365.6 198.6,364.3 200.4,364.3 201.9,362.5 202.9,361.5 203.8,360.4 205.4,360.2 206.5,359.5 207.4,358.5 208.5,357.8 209.0,356.3 209.9,355.2 210.8,354.0 212.2,353.3 212.9,351.8 214.0,350.6 215.1,349.2 216.1,348.3 217.5,347.9 218.5,347.1 219.7,345.9 221.3,344.8 221.4,342.5 222.3,341.5 223.1,340.5 223.9,338.9 225.2,337.8 225.5,335.9 225.1,334.3 226.9,332.0" class="r"/>
<circle cx="196.2" cy="329.0" r="1.7" class="g"/>
<circle cx="200.7" cy="329.0" r="1.7" class="g"/>
<circle cx="203.0" cy="329.8" r="1.7" class="g"/>
<circle cx="187.8" cy="333.2" r="1.7" class="g"/>
<circle cx="192.0" cy="333.6" r="1.7" class="g"/>
<circle cx="196.2" cy="332.0" r="1.7" class="g"/>
<circle cx="199.2" cy="332.8" r="1.7" class="g"/>
<circle cx="202.2" cy="332.4" r="1.7" class="g"/>
<circle cx="205.3" cy="333.2" r="1.7" class="g"/>
<circle cx="185.2" cy="336.2" r="1.7" class="g"/>
<circle cx="188.6" cy="335.8" r="1.7" class="g"/>
<circle cx="192.8" cy="335.1" r="1.7" class="g"/>
<circle cx="198.5" cy="335.8" r="1.7" class="g"/>
<circle cx="201.5" cy="335.5" r="1.7" class="g"/>
<circle cx="204.5" cy="335.8" r="1.7" class="g"/>
<circle cx="207.5" cy="335.8" r="1.7" class="g"/>
<circle cx="181.0" cy="339.2" r="1.7" class="g"/>
<circle cx="184.1" cy="338.5" r="1.7" class="g"/>
<circle cx="196.2" cy="338.1" r="1.7" class="g"/>
<circle cx="199.2" cy="338.5" r="1.7" class="g"/>
<circle cx="203.0" cy="338.5" r="1.7" class="g"/>
<circle cx="206.8" cy="338.5" r="1.7" class="g"/>
<circle cx="186.3" cy="341.9" r="1.7" class="g"/>
<circle cx="190.1" cy="341.5" r="1.7" class="g"/>
<circle cx="193.9" cy="341.1" r="1.7" class="g"/>
<circle cx="197.7" cy="341.5" r="1.7" class="g"/>
<circle cx="200.7" cy="341.1" r="1.7" class="g"/>
<circle cx="204.1" cy="341.5" r="1.7" class="g"/>
<circle cx="207.5" cy="341.1" r="1.7" class="g"/>
<circle cx="185.6" cy="344.9" r="1.7" class="g"/>
<circle cx="189.4" cy="344.5" r="1.7" class="g"/>
<circle cx="193.2" cy="344.2" r="1.7" class="g"/>
<circle cx="196.9" cy="344.9" r="1.7" class="g"/>
<circle cx="200.7" cy="344.5" r="1.7" class="g"/>
<circle cx="204.5" cy="344.2" r="1.7" class="g"/>
<circle cx="187.8" cy="347.6" r="1.7" class="g"/>
<circle cx="191.3" cy="347.6" r="1.7" class="g"/>
<circle cx="194.7" cy="347.2" r="1.7" class="g"/>
<circle cx="198.5" cy="347.2" r="1.7" class="g"/>
<circle cx="201.5" cy="346.4" r="1.7" class="g"/>
<circle cx="190.1" cy="350.2" r="1.7" class="g"/>
<circle cx="193.2" cy="350.6" r="1.7" class="g"/>
<circle cx="196.9" cy="349.9" r="1.7" class="g"/>
<circle cx="200.0" cy="349.5" r="1.7" class="g"/>
<circle cx="193.2" cy="353.6" r="1.7" class="g"/>
<polyline points="87.5,340.9 88.5,337.9 89.0,334.9 91.0,333.9 94.0,333.4 96.0,334.4 99.0,335.4 101.0,334.9 103.0,333.9 105.0,334.4 107.0,334.4 110.0,333.2 113.6,333.2 117.3,334.3 119.5,333.2 120.2,331.0 119.5,328.1 119.8,325.5 122.4,324.4 126.0,323.4 128.0,322.7 130.5,321.5 133.1,320.2 135.6,318.9 138.2,318.3 140.1,318.6 141.4,319.9 142.3,321.5 143.0,323.4 142.6,325.3 143.3,327.2 144.9,329.0 147.8,329.3 150.3,327.8 153.5,327.2 157.3,326.6 159.2,327.2 160.2,329.4 160.7,331.9 161.5,333.9 164.0,336.9 166.5,338.9 167.9,339.9 168.8,342.4 169.4,343.9 171.0,345.9 173.0,345.4 175.0,344.0 178.0,343.4 181.0,342.3 184.1,340.4 187.1,338.9 190.1,337.7 193.2,337.4 195.0,338.1 196.2,339.2" class="b"/>
<circle cx="209.3" cy="326.7" r="1.9" fill="#0000ff"/>
<circle cx="212.5" cy="329.8" r="1.9" fill="#0000ff"/>
<circle cx="211.3" cy="331.7" r="1.9" fill="#0000ff"/>
<circle cx="212.5" cy="333.8" r="1.9" fill="#0000ff"/>
<circle cx="205.9" cy="313.2" r="1.85" fill="#f00000" stroke="#700000" stroke-width="0.55"/>
<circle cx="220.7" cy="344.9" r="1.85" fill="#f00000" stroke="#700000" stroke-width="0.55"/>
<circle cx="226.9" cy="332.0" r="1.85" fill="#f00000" stroke="#700000" stroke-width="0.55"/>
<rect x="32.6" y="254.7" width="218.6" height="169.4" class="ax"/>
<path d="M32.6,424.1v-2M32.6,254.7v2M69.0,424.1v-2M69.0,254.7v2M105.5,424.1v-2M105.5,254.7v2M141.9,424.1v-2M141.9,254.7v2M178.3,424.1v-2M178.3,254.7v2M214.8,424.1v-2M214.8,254.7v2M251.2,424.1v-2M251.2,254.7v2M32.6,409.8h2M251.2,409.8h-2M32.6,374.6h2M251.2,374.6h-2M32.6,339.3h2M251.2,339.3h-2M32.6,304.1h2M251.2,304.1h-2M32.6,268.8h2M251.2,268.8h-2" class="ax"/>
<text x="29.2" y="436.6" text-anchor="middle" class="t">−300</text>
<text x="65.6" y="436.6" text-anchor="middle" class="t">−200</text>
<text x="102.1" y="436.6" text-anchor="middle" class="t">−100</text>
<text x="141.9" y="436.6" text-anchor="middle" class="t">0</text>
<text x="178.3" y="436.6" text-anchor="middle" class="t">100</text>
<text x="214.8" y="436.6" text-anchor="middle" class="t">200</text>
<text x="251.2" y="436.6" text-anchor="middle" class="t">300</text>
<text x="30.8" y="413.7" text-anchor="end" class="t">−200</text>
<text x="30.8" y="378.4" text-anchor="end" class="t">−100</text>
<text x="30.8" y="343.2" text-anchor="end" class="t">0</text>
<text x="30.8" y="307.9" text-anchor="end" class="t">100</text>
<text x="30.8" y="272.7" text-anchor="end" class="t">200</text>
<text x="137.1" y="467.1" text-anchor="middle" class="cap">(<tspan font-weight="bold">c</tspan>)</text>
<ellipse cx="373.4" cy="339.3" rx="14.57" ry="14.10" fill="none" stroke="#5c5c5c" stroke-width="0.95"/>
<ellipse cx="482.6" cy="339.3" rx="14.57" ry="14.10" fill="none" stroke="#5c5c5c" stroke-width="0.95"/>
<polyline points="336.4,333.0 338.0,332.8 339.3,331.8 340.3,330.6 341.4,329.5 342.7,329.1 343.7,328.2 345.6,326.2 348.0,325.8 349.9,326.4 351.0,327.7 350.7,328.9 349.4,330.1 348.4,331.9 348.2,333.3 348.7,335.0 349.8,336.4 351.9,336.2 351.8,334.6 351.7,332.6 352.5,330.7 352.1,328.7" class="r"/>
<polyline points="351.2,331.0 353.0,330.8 353.9,329.7 354.9,328.7 355.8,327.6 356.6,326.4 357.6,325.4 358.3,324.2 359.4,322.8 360.5,321.5 361.8,320.2 363.2,320.0 364.7,319.8 366.2,319.8 367.5,319.0 368.7,318.1 370.1,317.3 371.3,316.3 372.1,314.6 373.9,314.4 375.1,313.4 376.2,312.7 377.1,311.7 379.1,311.9 377.9,309.3 377.3,311.4 377.0,313.4 375.6,314.8 375.9,316.6 374.9,318.1 375.5,319.9 375.1,321.6 374.4,323.2 374.7,324.9 374.2,326.6 373.8,328.2 373.0,329.8 373.3,331.2 372.8,332.5 371.9,334.3 373.5,335.4 374.1,336.9" class="r"/>
<polyline points="351.1,334.0 352.6,332.9 354.1,331.9 355.5,330.7 357.1,329.8 358.4,328.9 360.0,328.3 361.0,326.7 363.1,326.7 363.2,324.2 364.8,323.6 366.5,322.5 367.6,324.4 368.9,326.3 369.3,328.1 369.4,329.9 368.9,331.6 369.9,333.2 369.7,334.9 370.1,336.5 369.7,338.3 370.2,339.9 370.3,341.2 369.9,342.6 370.5,344.0 371.2,345.5 372.3,346.7 373.6,347.6 375.2,347.9 376.3,348.6 377.4,349.5 378.4,350.1 379.4,351.9 381.4,351.1 383.1,350.9 384.3,352.2 385.4,353.5 384.8,352.2 384.4,350.6 383.9,349.1 382.4,348.6 380.8,348.2 379.8,347.1 379.4,345.2 378.4,343.7 377.1,342.4 376.2,340.9 375.8,339.3 375.1,337.9" class="r"/>
<polyline points="335.8,339.1 336.8,338.0 339.0,338.2 338.6,336.9 340.4,337.1 341.0,338.8 342.1,340.5 343.5,340.9 344.6,342.0 346.1,342.3 347.5,343.2 349.1,343.4 351.4,345.1 350.9,346.1 352.1,347.6 354.5,348.9 354.4,351.3 352.8,352.3 354.1,353.4" class="r"/>
<polyline points="350.9,327.6 351.7,328.7 352.3,329.9 353.3,330.7 354.6,332.1 355.4,334.0 355.8,335.8 354.2,336.9 352.3,338.8 351.6,340.2 351.3,341.8 350.8,343.3 350.4,345.1 351.2,346.5 352.2,347.8 353.2,349.2 353.9,350.8 354.1,353.4" class="r"/>
<polyline points="338.0,346.4 338.3,348.4 339.1,349.7 340.8,349.9 342.0,350.5 343.7,350.2 344.4,351.6 345.5,352.5 346.5,353.5 347.2,355.1 348.9,355.1 350.0,356.1 351.7,356.0 353.3,356.6 354.4,358.2 356.5,358.1 358.0,358.8 359.0,360.5 360.2,361.3 361.7,361.4 361.8,362.8 362.8,364.4 364.2,363.7 365.2,362.6 366.6,362.5 368.7,361.0 367.3,360.2 367.3,358.4 366.2,357.0 365.4,355.4 363.2,354.7 362.6,352.0 361.4,349.9 360.9,348.5 359.3,347.7 358.0,345.8 357.4,344.1 359.2,342.3 361.0,341.6 360.3,339.7 362.0,338.6 364.4,338.5 365.2,339.7 365.5,341.2 366.7,342.3 367.6,343.5 368.1,344.9 368.9,346.4 369.7,347.9 370.3,349.6 371.4,350.8 372.4,352.1 373.7,353.0 374.9,354.4 376.3,355.2 378.0,355.1 379.5,355.1 380.9,355.2 382.1,356.0 383.3,356.8 384.7,356.8 386.1,356.9 387.5,356.9 388.8,356.9 390.2,357.1 391.7,357.1 393.2,357.7 394.6,358.5 396.0,359.1 397.9,359.5 400.7,359.1 400.9,356.6 399.5,356.5 398.4,355.9 396.6,354.4 395.4,353.6 393.6,353.3 392.5,352.1 391.7,350.7 391.3,349.0 390.6,347.4 389.6,346.4 388.3,345.8 387.6,344.1 386.3,342.8 386.5,341.1 385.8,339.7 384.6,337.9" class="r"/>
<polyline points="375.8,338.5 377.9,339.4 380.5,340.3 381.8,338.6 380.1,336.9 379.7,335.3 379.8,333.6 380.8,332.3 381.9,331.0 382.3,329.4 381.9,327.8 383.0,326.5 382.4,324.7 382.8,323.4 383.2,322.1 383.9,320.8 385.1,319.7 385.0,318.0 385.7,316.7 386.8,315.4 387.1,313.7 388.0,312.0 389.0,310.3 389.6,308.5 390.3,306.9 391.6,305.6 392.8,304.1 394.3,303.1 395.9,302.8 396.3,301.8 396.9,302.3 397.0,304.9 396.2,306.3 396.2,307.9 395.0,309.5 394.2,311.2 395.0,313.3 394.8,315.2 394.1,316.4 393.5,317.7 393.4,319.2 393.0,320.6 391.8,321.6 391.4,323.0 391.2,325.0 390.2,326.6 389.0,327.9 388.8,329.7 389.6,330.8 389.7,332.4 389.9,333.9 389.8,335.3 389.2,336.6 388.6,338.2 389.1,339.8 390.6,341.3 392.1,341.5 394.2,341.2 395.1,338.7 393.4,337.6 393.1,335.8 393.4,334.5 394.3,333.3 394.2,331.9 394.6,330.4 394.8,329.0 395.8,327.8 396.3,326.5 396.9,325.1 397.5,323.8 397.8,322.5 398.0,321.0 397.7,319.6 397.7,318.3 398.6,317.3 398.7,315.8 399.1,314.4 399.4,312.9 399.3,311.6 398.1,310.1 399.6,308.9" class="r"/>
<polyline points="382.8,328.6 384.0,327.8 384.9,326.6 386.1,325.6 386.3,324.4 387.6,323.4 388.6,322.2 389.3,321.0 389.8,319.6 390.3,318.2 391.4,317.1 392.9,315.9 393.9,314.2 394.0,312.7 394.7,311.5 394.6,309.9" class="r"/>
<polyline points="394.6,330.2 395.2,328.8 396.1,327.6 396.6,326.0 397.1,324.7 397.1,323.3 397.9,322.1 397.8,320.6 398.0,319.3 398.2,317.9 398.8,316.6 398.9,315.0 399.6,313.5 400.6,312.1 402.1,310.9" class="r"/>
<polyline points="395.1,302.5 396.4,301.5 397.3,299.7 399.8,298.8 401.8,299.1 402.8,298.0 403.8,296.8 404.7,295.3 406.4,295.1 408.0,294.3 409.7,294.2 411.2,293.1 412.9,293.6 414.5,293.9 416.4,292.9 418.3,293.2 419.8,294.1 421.3,294.4 423.0,294.6 424.6,294.7 425.9,295.1 427.1,295.5 429.2,295.8 429.7,296.9 428.1,297.1 425.7,296.7 423.3,297.7 421.2,298.8 419.9,299.5 418.4,300.0 417.9,301.4 417.1,302.5 415.2,303.8 413.0,304.3 412.4,305.9 411.3,307.1 410.2,308.1 409.8,309.5 409.2,310.8 408.5,312.1 408.2,313.4 407.1,314.7 407.4,316.0 407.8,317.4 409.6,318.0 410.5,315.9 411.2,315.0 412.6,316.0" class="r"/>
<polyline points="403.5,308.2 405.9,307.4 407.6,307.2 408.1,305.8 409.3,305.1 408.8,302.8 410.6,301.1 412.3,299.5 412.8,297.3 411.7,295.8 409.4,294.5 407.3,295.5 405.3,297.1 403.8,297.3 402.8,298.3 401.3,300.3 400.1,301.0 398.9,301.8 397.1,303.6 397.3,305.8" class="r"/>
<polyline points="402.0,308.9 402.4,310.2 401.9,311.6 402.6,312.9 402.3,314.2 401.5,315.5 401.1,316.8 401.1,318.2 401.5,319.6 401.9,321.0 401.1,322.3 400.2,323.5 400.7,324.9 400.1,326.2 399.9,327.5 400.2,328.9 399.9,330.4 400.6,332.1 401.5,330.5 402.4,329.1 403.8,330.2 403.1,331.9" class="r"/>
<polyline points="405.9,335.5 406.6,337.1 407.3,338.7 408.2,339.8 409.5,340.5 410.4,341.6 411.8,342.5 413.5,342.8 413.4,341.2 413.8,340.0 413.1,338.6 413.2,337.2 413.2,335.5 413.5,333.8 412.5,332.4 411.7,330.9 411.8,329.4 412.0,327.9 411.3,326.7 411.0,325.3 410.5,323.9 410.4,322.4 411.3,320.9 411.2,319.4 411.3,317.8 411.7,316.3 411.6,314.3 413.2,313.7 413.7,312.5 414.7,311.5 415.8,310.1 417.2,309.0 418.3,308.4 418.9,306.9 420.1,306.3 422.2,306.3 423.2,304.6 424.5,304.1 425.9,303.7 427.1,302.9 428.4,302.7 429.8,303.0 431.1,302.9 432.8,302.4 434.4,302.1 436.2,302.2 437.4,302.7 438.5,303.5 439.8,303.5 441.5,303.2 442.6,304.2 444.0,304.8 445.4,305.5 446.2,306.6 447.2,307.5 448.4,308.7 447.1,308.8 445.6,309.2 444.0,309.0 442.6,310.0 440.8,309.8 439.5,311.0 437.6,311.2 435.8,311.8 434.3,312.4 432.5,313.1 431.2,315.0 430.3,316.0 429.7,317.4 428.5,319.5 427.8,321.5 427.9,322.8 428.5,324.2 429.4,323.4" class="r"/>
<polyline points="432.6,303.2 432.6,304.9 433.5,306.3 433.0,308.5 431.3,309.3 430.0,311.5 428.6,312.2 427.5,313.3 426.2,314.0 424.8,314.5 422.2,315.2 421.1,317.9 419.9,318.9 418.5,319.6 416.5,319.6 415.0,320.4 414.1,322.2 413.0,323.8 411.4,324.7 409.7,325.5 408.8,327.1 407.7,328.5 407.2,330.1 405.6,331.0" class="r"/>
<polyline points="420.7,317.0 420.5,318.6 420.3,320.2 419.8,321.7 419.6,323.4 419.9,325.0 420.1,326.5 419.6,328.0 420.9,329.3 420.8,330.5 421.9,331.9 422.4,333.6 423.4,334.6 424.5,335.7 425.0,338.0 426.2,338.8 427.5,339.5 428.0,341.0 429.1,341.9" class="r"/>
<polyline points="374.1,328.7 375.4,327.8 376.8,329.4 378.1,329.3 379.4,329.2 380.8,328.9 382.1,329.2 383.4,328.3 384.8,329.0 386.1,330.1 387.5,329.2 388.8,329.4 390.2,328.8 391.5,328.2 392.9,328.5 394.2,328.3 395.6,328.3 397.0,328.5 398.3,328.5 399.7,329.1 401.0,329.3 402.4,329.2 403.7,329.1 405.1,328.7 406.5,328.7 407.8,328.9 409.2,329.0 410.6,328.9 411.9,329.4 413.3,330.1 414.7,329.3 416.0,329.6 417.3,329.2 418.6,329.0 420.0,329.1 421.3,329.5 422.6,329.8 423.9,330.0 425.2,329.9 426.5,330.3 427.8,330.4 429.1,329.9" class="r"/>
<polyline points="430.6,323.6 432.0,322.5 433.2,321.2 434.6,320.5 436.1,319.6 437.6,319.4 438.6,319.6 439.9,321.1 438.9,322.6 437.3,323.7 437.0,325.5 436.2,327.0 435.4,328.2 434.2,328.9 435.0,330.6 434.0,331.9 434.0,333.2 434.2,334.5 434.9,335.5 434.4,337.6 435.4,339.1 437.4,340.6 438.8,341.4 439.3,342.0 440.8,342.3 442.0,341.3 442.6,339.9 443.6,338.6 444.1,337.0 445.0,335.9 446.2,335.1 447.9,334.6 449.6,333.3 450.1,331.7 451.5,330.6 451.7,328.7 453.2,327.8 454.5,326.8 455.1,325.5 456.7,323.9 457.5,322.9 458.4,321.9 459.0,320.5 460.1,319.3 461.7,319.2 463.2,318.9 464.3,317.9 465.6,317.1 467.1,317.3 468.8,317.3 470.3,317.3 471.8,317.2 473.1,316.1 474.5,315.5 475.8,316.1 477.1,316.0 478.7,316.1 480.4,316.4 482.1,316.8 483.3,315.4 484.8,315.4 486.1,314.5 487.7,314.0 489.6,314.7 490.5,313.4 492.2,312.2 493.6,312.9 495.4,313.0 496.8,313.9 498.3,314.7 499.7,315.5 500.7,317.1 502.4,317.9 504.0,318.7 504.9,320.0 505.5,321.3 506.3,322.7 506.7,324.2 507.6,325.6 506.7,327.2 507.2,328.7 506.8,330.1 506.3,331.8 504.6,331.1 503.4,329.3 501.9,327.8 500.1,326.3 498.5,326.2" class="r"/>
<polyline points="426.1,330.6 427.6,330.5 428.7,330.7 429.8,331.7 431.4,333.0 431.5,334.7 430.2,336.2 429.6,337.9 429.9,339.6 429.9,341.3 430.6,342.9 430.4,344.3 430.4,345.7 431.4,346.7 432.0,347.9 432.9,349.5 434.1,350.9 434.9,352.1 436.3,352.7 437.2,353.7 438.0,354.8 438.9,355.8 439.8,357.0 441.8,357.3 442.9,359.0 443.9,359.9 445.5,360.0 446.6,360.8 447.7,361.7 449.3,361.6 450.6,362.1 451.7,363.1 453.3,363.0 454.5,363.7 455.6,364.5 456.8,365.1 457.9,366.0 459.2,366.3 460.5,366.3 462.2,366.9 463.8,366.2 465.0,365.3 465.8,364.5 466.9,363.4 469.4,363.1 470.8,363.0 472.1,362.7 473.3,362.2 475.3,362.0 476.7,361.5 477.9,360.3 479.5,360.3 480.9,359.9 482.3,361.0 483.7,360.4 485.1,360.2 486.5,360.2 488.1,360.5 489.0,358.8 490.4,358.0 492.2,357.8 493.7,357.5 494.6,356.5 495.4,355.4 496.3,354.4 497.2,353.2 499.0,352.9 500.3,352.1 501.0,350.7 502.2,349.7 502.8,348.3 503.4,346.9 505.2,347.0 505.6,345.2 506.5,344.6 507.8,343.7 509.1,342.7 510.1,341.5 511.6,340.7 510.3,341.5 509.2,342.4 508.5,343.5 507.4,344.3 506.8,345.6 506.1,346.8 505.2,347.8 504.0,348.5 502.7,348.9 501.7,349.8 500.8,351.4 499.6,352.5 497.9,353.2" class="r"/>
<polyline points="428.5,342.0 428.9,343.4 429.7,344.6 430.1,345.9 429.8,347.7 430.7,348.9 432.0,349.9 432.2,351.3 433.1,352.5 434.1,353.4 434.7,354.8 434.0,356.8 435.2,357.8 435.4,359.6 436.8,360.2 438.1,360.9 439.3,362.1 440.8,362.9 441.8,364.3 443.1,365.4 444.5,366.2 446.0,367.1 447.1,368.6 449.0,369.1 450.2,369.7 451.4,370.0 452.8,369.9 454.1,370.4 455.6,370.1 457.1,370.4 458.6,371.1 460.2,371.5 461.7,372.3 463.3,372.4 464.9,372.4 466.5,372.8 468.2,372.1 469.9,372.8 471.5,373.4 473.3,372.8 475.2,373.1 477.5,374.2 479.8,372.7 479.9,370.9 481.0,369.4 480.8,367.9 480.9,366.7 482.4,366.3 483.7,365.6 484.7,364.3 486.5,364.3 488.0,362.5 489.0,361.5 489.9,360.4 491.5,360.2 492.6,359.5 493.5,358.5 494.6,357.8 495.1,356.3 496.0,355.2 496.9,354.0 498.3,353.3 499.0,351.8 500.1,350.6 501.2,349.2 502.2,348.3 503.6,347.9 504.6,347.1 505.8,345.9 507.4,344.8 507.5,342.5 508.4,341.5 509.2,340.5 510.0,338.9 511.3,337.8 511.6,335.9 511.2,334.3 511.3,331.9 512.6,330.4 513.4,328.9 513.7,327.0 513.5,324.1 516.2,324.2 516.6,325.6 517.5,326.7 518.0,328.5 519.5,329.9 519.5,331.6 519.3,333.3 519.1,334.8 519.1,336.2 518.9,337.6 518.4,339.0 518.1,340.3 515.6,341.2 513.6,340.4 512.1,341.6 510.4,341.8 508.7,342.0 507.4,340.5 505.9,340.3 504.4,340.1" class="r"/>
<circle cx="484.7" cy="330.6" r="1.7" class="g"/>
<circle cx="474.2" cy="333.8" r="1.7" class="g"/>
<circle cx="478.4" cy="332.7" r="1.7" class="g"/>
<circle cx="483.6" cy="333.8" r="1.7" class="g"/>
<circle cx="468.9" cy="339.0" r="1.7" class="g"/>
<circle cx="474.2" cy="337.4" r="1.7" class="g"/>
<circle cx="478.4" cy="336.4" r="1.7" class="g"/>
<circle cx="482.6" cy="336.4" r="1.7" class="g"/>
<circle cx="466.8" cy="341.6" r="1.7" class="g"/>
<circle cx="471.0" cy="341.6" r="1.7" class="g"/>
<circle cx="475.2" cy="341.6" r="1.7" class="g"/>
<circle cx="480.5" cy="340.6" r="1.7" class="g"/>
<circle cx="484.7" cy="343.2" r="1.7" class="g"/>
<circle cx="462.6" cy="346.4" r="1.7" class="g"/>
<circle cx="466.8" cy="345.3" r="1.7" class="g"/>
<circle cx="471.0" cy="344.8" r="1.7" class="g"/>
<circle cx="475.2" cy="344.8" r="1.7" class="g"/>
<circle cx="479.4" cy="345.3" r="1.7" class="g"/>
<circle cx="483.6" cy="345.8" r="1.7" class="g"/>
<circle cx="460.5" cy="349.0" r="1.7" class="g"/>
<circle cx="464.7" cy="349.5" r="1.7" class="g"/>
<circle cx="468.9" cy="348.5" r="1.7" class="g"/>
<circle cx="473.1" cy="349.0" r="1.7" class="g"/>
<circle cx="477.3" cy="350.0" r="1.7" class="g"/>
<circle cx="462.6" cy="352.7" r="1.7" class="g"/>
<circle cx="466.8" cy="352.7" r="1.7" class="g"/>
<circle cx="471.0" cy="352.7" r="1.7" class="g"/>
<circle cx="475.2" cy="352.7" r="1.7" class="g"/>
<circle cx="479.4" cy="353.7" r="1.7" class="g"/>
<circle cx="465.8" cy="355.8" r="1.7" class="g"/>
<circle cx="470.0" cy="355.8" r="1.7" class="g"/>
<circle cx="474.2" cy="355.8" r="1.7" class="g"/>
<circle cx="477.3" cy="356.3" r="1.7" class="g"/>
<circle cx="468.9" cy="359.0" r="1.7" class="g"/>
<circle cx="473.1" cy="359.0" r="1.7" class="g"/>
<circle cx="476.3" cy="358.4" r="1.7" class="g"/>
<circle cx="472.1" cy="361.6" r="1.7" class="g"/>
<polyline points="373.6,340.9 374.6,337.9 375.1,334.9 377.1,333.9 380.1,333.4 382.1,334.4 385.1,335.4 387.1,334.9 389.1,333.9 391.1,334.4 393.1,334.4 396.1,333.2 399.7,333.2 403.4,334.3 405.6,333.2 406.3,331.0 405.6,328.1 405.9,325.5 408.5,324.4 412.1,323.4 414.1,322.7 416.6,321.5 419.2,320.2 421.7,318.9 424.3,318.3 426.2,318.6 427.5,319.9 428.4,321.5 429.1,323.4 428.7,325.3 429.4,327.2 431.0,329.0 433.9,329.3 436.4,327.8 439.6,327.2 443.4,326.6 445.3,327.2 446.3,329.4 446.8,331.9 447.6,333.9 450.1,336.9 452.6,338.9 454.0,339.9 454.9,342.4 455.5,343.9 457.1,345.9 459.1,345.4 461.6,344.8 464.7,343.7 467.9,342.7 471.0,341.1 474.2,339.5 477.3,338.5 480.5,339.0 482.6,340.1 483.1,341.6 481.5,342.7 479.4,343.2 477.3,344.3 476.3,345.8" class="b"/>
<circle cx="487.8" cy="335.6" r="1.9" fill="#0000ff"/>
<circle cx="488.0" cy="340.3" r="1.9" fill="#0000ff"/>
<circle cx="481.5" cy="349.8" r="1.9" fill="#0000ff"/>
<circle cx="498.5" cy="326.2" r="1.85" fill="#f00000" stroke="#700000" stroke-width="0.55"/>
<circle cx="497.9" cy="353.2" r="1.85" fill="#f00000" stroke="#700000" stroke-width="0.55"/>
<circle cx="504.4" cy="340.1" r="1.85" fill="#f00000" stroke="#700000" stroke-width="0.55"/>
<rect x="318.7" y="254.7" width="218.6" height="169.4" class="ax"/>
<path d="M318.7,424.1v-2M318.7,254.7v2M355.1,424.1v-2M355.1,254.7v2M391.6,424.1v-2M391.6,254.7v2M428.0,424.1v-2M428.0,254.7v2M464.4,424.1v-2M464.4,254.7v2M500.9,424.1v-2M500.9,254.7v2M537.3,424.1v-2M537.3,254.7v2M318.7,409.8h2M537.3,409.8h-2M318.7,374.6h2M537.3,374.6h-2M318.7,339.3h2M537.3,339.3h-2M318.7,304.1h2M537.3,304.1h-2M318.7,268.8h2M537.3,268.8h-2" class="ax"/>
<text x="315.3" y="436.6" text-anchor="middle" class="t">−300</text>
<text x="351.7" y="436.6" text-anchor="middle" class="t">−200</text>
<text x="388.2" y="436.6" text-anchor="middle" class="t">−100</text>
<text x="428.0" y="436.6" text-anchor="middle" class="t">0</text>
<text x="464.4" y="436.6" text-anchor="middle" class="t">100</text>
<text x="500.9" y="436.6" text-anchor="middle" class="t">200</text>
<text x="537.3" y="436.6" text-anchor="middle" class="t">300</text>
<text x="316.9" y="413.7" text-anchor="end" class="t">−200</text>
<text x="316.9" y="378.4" text-anchor="end" class="t">−100</text>
<text x="316.9" y="343.2" text-anchor="end" class="t">0</text>
<text x="316.9" y="307.9" text-anchor="end" class="t">100</text>
<text x="316.9" y="272.7" text-anchor="end" class="t">200</text>
<text x="423.2" y="467.1" text-anchor="middle" class="cap">(<tspan font-weight="bold">d</tspan>)</text>
</svg>
</body></html>
